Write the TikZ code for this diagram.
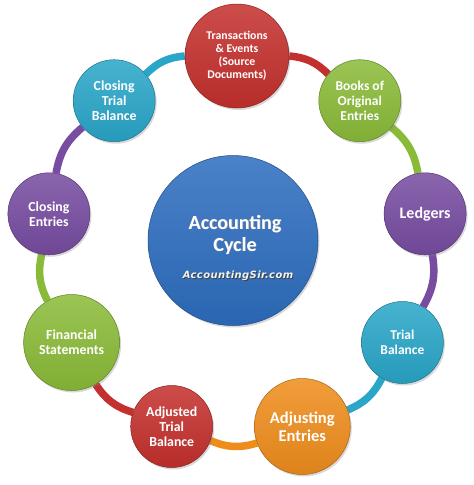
\documentclass[tikz,border=0pt]{standalone}
\usepackage{fontspec}
\setmainfont{Carlito}
\newfontfamily\urlfont{DejaVu Sans}[LetterSpace=4]
\usetikzlibrary{shadows,backgrounds}
\pgfdeclarelayer{connlayer}
\pgfsetlayers{background,connlayer,main}
\definecolor{cRed}{HTML}{C4302D}
\definecolor{cGreen}{HTML}{8ABB38}
\definecolor{cPurple}{HTML}{774CA1}
\definecolor{cTeal}{HTML}{29A6C8}
\definecolor{cOrange}{HTML}{EF8D1C}
\definecolor{cBlue}{HTML}{2D6DBF}
\newcommand{\shtxt}[1]{\makebox[0pt][l]{\kern0.6pt\raisebox{-0.6pt}{\color{black!40}#1}}#1}
\tikzset{
  ball/.style={circle, draw=#1!70!black, line width=0.5pt,
    top color=#1!86!white, bottom color=#1!93!black,
    text=white, font=\bfseries, align=center, inner sep=0pt,
    drop shadow={opacity=0.3, shadow xshift=1.5pt, shadow yshift=-2pt}},
  r41/.style={minimum size=82pt},
  r48/.style={minimum size=96pt},
  r52/.style={minimum size=104pt},
  fsz/.style 2 args={font=\bfseries\fontsize{#1}{#2}\selectfont},
  conn/.style={draw=#1, line width=7.5pt},
}
\begin{document}
\begin{tikzpicture}[x=1pt,y=1pt]
\begin{pgfonlayer}{background}
\fill[white] (0,0) rectangle (474,-485);
\end{pgfonlayer}
\useasboundingbox (0,0) rectangle (474,-485);
% center
\node[ball=cBlue, minimum size=170pt] (cyc) at (233,-240.5) {};
\node[text=white, fsz={20}{22}, align=center] (cyct) at (235,-235) {\shtxt{Accounting}\\\shtxt{Cycle}};
\node[text=black!5, font=\urlfont\bfseries\itshape\fontsize{10}{12}\selectfont] (url) at (238,-276)
  {\makebox[0pt][l]{\kern0.9pt\raisebox{-0.9pt}{\color{black!75}AccountingSir.com}}AccountingSir.com};
% ring nodes
\node[ball=cRed, r52, fsz={11.8}{13}] (tr) at (237,-56) {Transactions\\\& Events\\(Source\\Documents)};
\node[ball=cGreen, r41, fsz={13.5}{15}] (bk) at (359.8,-100.7) {Books of\\Original\\Entries};
\node[ball=cPurple, r41, fsz={16}{17}] (lg) at (425.1,-213.8) {Ledgers};
\node[ball=cTeal, r41, fsz={13.5}{15}] (tb) at (402.4,-342.5) {Trial\\Balance};
\node[ball=cOrange, r48, fsz={16.5}{18}] (ae) at (302.3,-426.5) {Adjusting\\Entries};
\node[ball=cRed, r41, fsz={13.8}{15}] (atb) at (171.7,-426.5) {Adjusted\\Trial\\Balance};
\node[ball=cGreen, r48, fsz={13.8}{15}] (fs) at (71.6,-342.5) {Financial\\Statements};
\node[ball=cPurple, r41, fsz={13.8}{15}] (ce) at (48.9,-213.8) {Closing\\Entries};
\node[ball=cTeal, r41, fsz={13.8}{15}] (ctb) at (114.2,-100.7) {Closing\\Trial\\Balance};
% connectors
\begin{pgfonlayer}{connlayer}
\draw[conn=cRed] (tr) to[bend left=20] (bk);
\draw[conn=cGreen] (bk) to[bend left=20] (lg);
\draw[conn=cPurple] (lg) to[bend left=20] (tb);
\draw[conn=cTeal] (tb) to[bend left=20] (ae);
\draw[conn=cOrange] (ae) to[bend left=20] (atb);
\draw[conn=cRed] (atb) to[bend left=20] (fs);
\draw[conn=cGreen] (fs) to[bend left=20] (ce);
\draw[conn=cPurple] (ce) to[bend left=20] (ctb);
\draw[conn=cTeal] (ctb) to[bend left=20] (tr);
\end{pgfonlayer}
\end{tikzpicture}
\end{document}
